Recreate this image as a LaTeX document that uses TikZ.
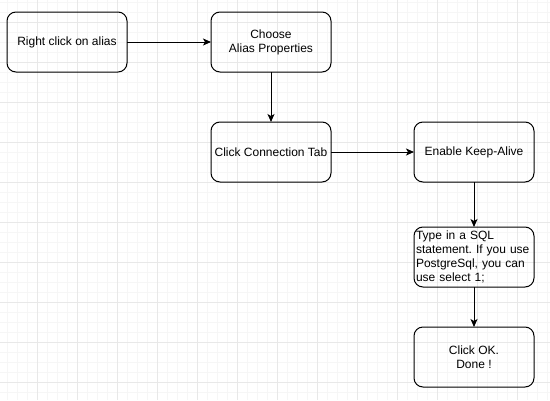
\documentclass[tikz,border=0pt]{standalone}
\usepackage{fontspec}
\setmainfont{Liberation Sans}
\usetikzlibrary{arrows.meta,positioning}
\definecolor{gridminor}{HTML}{F6F6F6}
\definecolor{gridmajor}{HTML}{E8E8E8}
\frenchspacing

\begin{document}
\begin{tikzpicture}[x=1pt, y=1pt, >={Stealth[length=8pt,width=7pt,inset=2pt]}, line width=1pt,
	box/.style={draw, rounded corners=9pt, minimum width=120pt, minimum height=60pt,
		align=center, inner sep=2pt, outer sep=0pt, font=\fontsize{12}{14}\selectfont},
	notebox/.style={box, text width=116pt, align=left}]

	% Background grid
	\fill [white] (0,0) rectangle (550,-400);
	\useasboundingbox (0,0) rectangle (550,-400);
	\foreach \x in {7,17,...,547} \draw [gridminor] (\x,0) -- (\x,-400);
	\foreach \y in {2,12,...,392} \draw [gridminor] (0,-\y) -- (550,-\y);
	\foreach \x in {37,77,...,517} \draw [gridmajor] (\x,0) -- (\x,-400);
	\foreach \y in {22,62,...,382} \draw [gridmajor] (0,-\y) -- (550,-\y);

	% Nodes {q1, q2, q3, q4, q5, q6}
	\node [box] 		(q1) at (67,-42) 		{Right click on alias};
	\node [box] 		(q2) [right=84pt of q1] {Choose\\Alias Properties};
	\node [box] 		(q3) [below=50pt of q2] {Click Connection Tab};
	\node [box] 		(q4) [right=83pt of q3] {Enable Keep-Alive};
	\node [notebox] 	(q5) [below=45pt of q4]
	{Type in a SQL\\statement. If you use\\PostgreSql, you can\\use select 1;};
	\node [box] 		(q6) [below=40pt of q5] {Click OK.\\Done !};

	% Paths
	\path [->] 	(q1) edge 	(q2);
	\path [->] 	(q2) edge 	(q3);
	\path [->] 	(q3) edge 	(q4);
	\path [->] 	(q4) edge 	(q5);
	\path [->] 	(q5) edge 	(q6);

\end{tikzpicture}
\end{document}
